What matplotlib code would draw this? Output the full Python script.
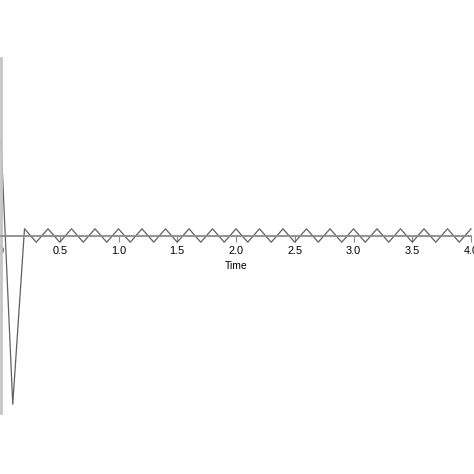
import matplotlib
matplotlib.use("Agg")
import matplotlib.pyplot as plt

# Data (sampled every 0.1 s)
time = [0.0, 0.1, 0.2, 0.3, 0.4, 0.5, 0.6, 0.7, 0.8, 0.9,
        1.0, 1.1, 1.2, 1.3, 1.4, 1.5, 1.6, 1.7, 1.8, 1.9,
        2.0, 2.1, 2.2, 2.3, 2.4, 2.5, 2.6, 2.7, 2.8, 2.9,
        3.0, 3.1, 3.2, 3.3, 3.4, 3.5, 3.6, 3.7, 3.8, 3.9, 4.0]
signal = [1.42, -2.52, 0.1, -0.1, 0.1, -0.1, 0.1, -0.1, 0.1, -0.1,
          0.1, -0.1, 0.1, -0.1, 0.1, -0.1, 0.1, -0.1, 0.1, -0.1,
          0.1, -0.1, 0.1, -0.1, 0.1, -0.1, 0.1, -0.1, 0.1, -0.1,
          0.1, -0.1, 0.1, -0.1, 0.1, -0.1, 0.1, -0.1, 0.1, -0.1, 0.1]
xticks = [0.0, 0.5, 1.0, 1.5, 2.0, 2.5, 3.0, 3.5, 4.0]
xticklabels = ["0", "0.5", "1.0", "1.5", "2.0", "2.5", "3.0", "3.5", "4.0"]

plt.rcParams['font.family'] = ['Liberation Sans', 'DejaVu Sans']

fig = plt.figure(figsize=(4.74, 4.74), dpi=100)
W = 474.0
ax = fig.add_axes([1 / W, (474 - 413) / W, 470 / W, 355 / W])
ax.patch.set_alpha(0)

ax.plot(time, signal, color='#606060', lw=0.9, clip_on=False)

ax.set_xlim(0, 4.0)
ax.set_ylim(-2.65, 2.65)

for s in ['top', 'right']:
    ax.spines[s].set_visible(False)
ax.spines['bottom'].set_position(('data', 0))
ax.spines['bottom'].set_color('#8a8a8a')
ax.spines['bottom'].set_linewidth(1.3)
ax.spines['left'].set_color('#c4c4c4')
ax.spines['left'].set_linewidth(2.0)

ax.set_yticks([])
ax.set_xticks(xticks)
ax.set_xticklabels(xticklabels, fontsize=7.8)
ax.tick_params(axis='x', direction='out', length=4, width=0.8, color='#8a8a8a', pad=3.5)
ax.set_xlabel("Time", fontsize=7.5)
ax.xaxis.set_label_coords(0.5, 0.5 - 25.5 / 355.0)

fig.savefig("out.png", dpi=100)
